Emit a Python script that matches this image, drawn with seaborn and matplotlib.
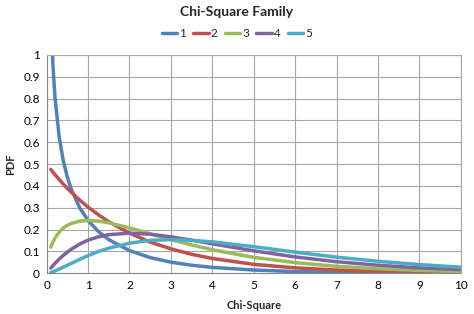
import numpy as np
import pandas as pd
import seaborn as sns
import matplotlib.pyplot as plt

# values
chi_x = [0.1, 0.15, 0.2, 0.3, 0.4, 0.5, 0.6, 0.8, 1.0, 1.25, 1.5, 2.0, 2.5,
         3.0, 3.5, 4.0, 5.0, 6.0, 7.0, 8.0, 9.0, 10.0]
pdf_df1 = [1.200, 0.956, 0.807, 0.627, 0.516, 0.439, 0.382, 0.299, 0.242, 0.191, 0.154,
           0.104, 0.072, 0.051, 0.037, 0.027, 0.015, 0.008, 0.005, 0.003, 0.0015, 0.001]
pdf_df2 = [0.476, 0.464, 0.452, 0.430, 0.409, 0.389, 0.370, 0.335, 0.303, 0.268, 0.236,
           0.184, 0.143, 0.112, 0.087, 0.068, 0.041, 0.025, 0.015, 0.009, 0.006, 0.003]
pdf_df3 = [0.120, 0.143, 0.161, 0.188, 0.207, 0.220, 0.229, 0.239, 0.242, 0.239, 0.231,
           0.208, 0.181, 0.154, 0.130, 0.108, 0.073, 0.049, 0.032, 0.021, 0.013, 0.008]
pdf_df4 = [0.024, 0.035, 0.045, 0.065, 0.082, 0.097, 0.111, 0.134, 0.152, 0.167, 0.177,
           0.184, 0.179, 0.167, 0.152, 0.135, 0.103, 0.075, 0.053, 0.037, 0.025, 0.017]
pdf_df5 = [0.004, 0.007, 0.011, 0.019, 0.028, 0.037, 0.046, 0.064, 0.081, 0.100, 0.115,
           0.138, 0.151, 0.154, 0.151, 0.144, 0.122, 0.097, 0.074, 0.055, 0.040, 0.028]
series_names = ['1', '2', '3', '4', '5']
colors = ['#4F81BD', '#C0504D', '#9BBB59', '#8064A2', '#4BACC6']

frames = []
for name, vals in zip(series_names, [pdf_df1, pdf_df2, pdf_df3, pdf_df4, pdf_df5]):
    frames.append(pd.DataFrame({'x': chi_x, 'pdf': vals, 'df': name}))
data = pd.concat(frames, ignore_index=True)

sns.set_style("whitegrid", {'grid.color': '#a6a6a6', 'axes.edgecolor': '#a6a6a6'})
plt.rcParams['font.family'] = ['Lato', 'DejaVu Sans']

fig = plt.figure(figsize=(4.74, 3.14), dpi=100)
ax = fig.add_axes([0.0985, 0.1296, 0.8735, 0.6954])
sns.lineplot(data=data, x='x', y='pdf', hue='df', palette=colors, linewidth=2.5,
             ax=ax, legend=False)

ax.set_xlim(0, 10)
ax.set_ylim(0, 1)
ax.set_xticks(np.arange(0, 11, 1))
ax.set_yticks(np.arange(0, 1.01, 0.1))
ax.set_xticklabels([str(i) for i in range(11)])
ax.set_yticklabels(['0'] + ['%.1f' % v for v in np.arange(0.1, 1.0, 0.1)] + ['1'])
ax.tick_params(labelsize=8.5, colors='black', length=0, pad=5)
ax.grid(True, linewidth=0.8)
ax.set_xlabel('Chi-Square', fontsize=8, fontweight='bold', labelpad=6)
ax.set_ylabel('PDF', fontsize=8, fontweight='bold', labelpad=5)
for side in ['left', 'bottom']:
    ax.spines[side].set_color('#868686')

handles = [plt.Line2D([], [], color=c, linewidth=2.5) for c in colors]
fig.legend(handles, series_names, loc='center', bbox_to_anchor=(0.5, 0.893), ncol=5,
           frameon=False, fontsize=8.5, handlelength=1.3, handletextpad=0.2,
           columnspacing=0.6)
fig.text(0.5, 0.962, 'Chi-Square Family', ha='center', va='center', fontsize=10,
         fontweight='bold')

fig.savefig('out.png', dpi=100)
